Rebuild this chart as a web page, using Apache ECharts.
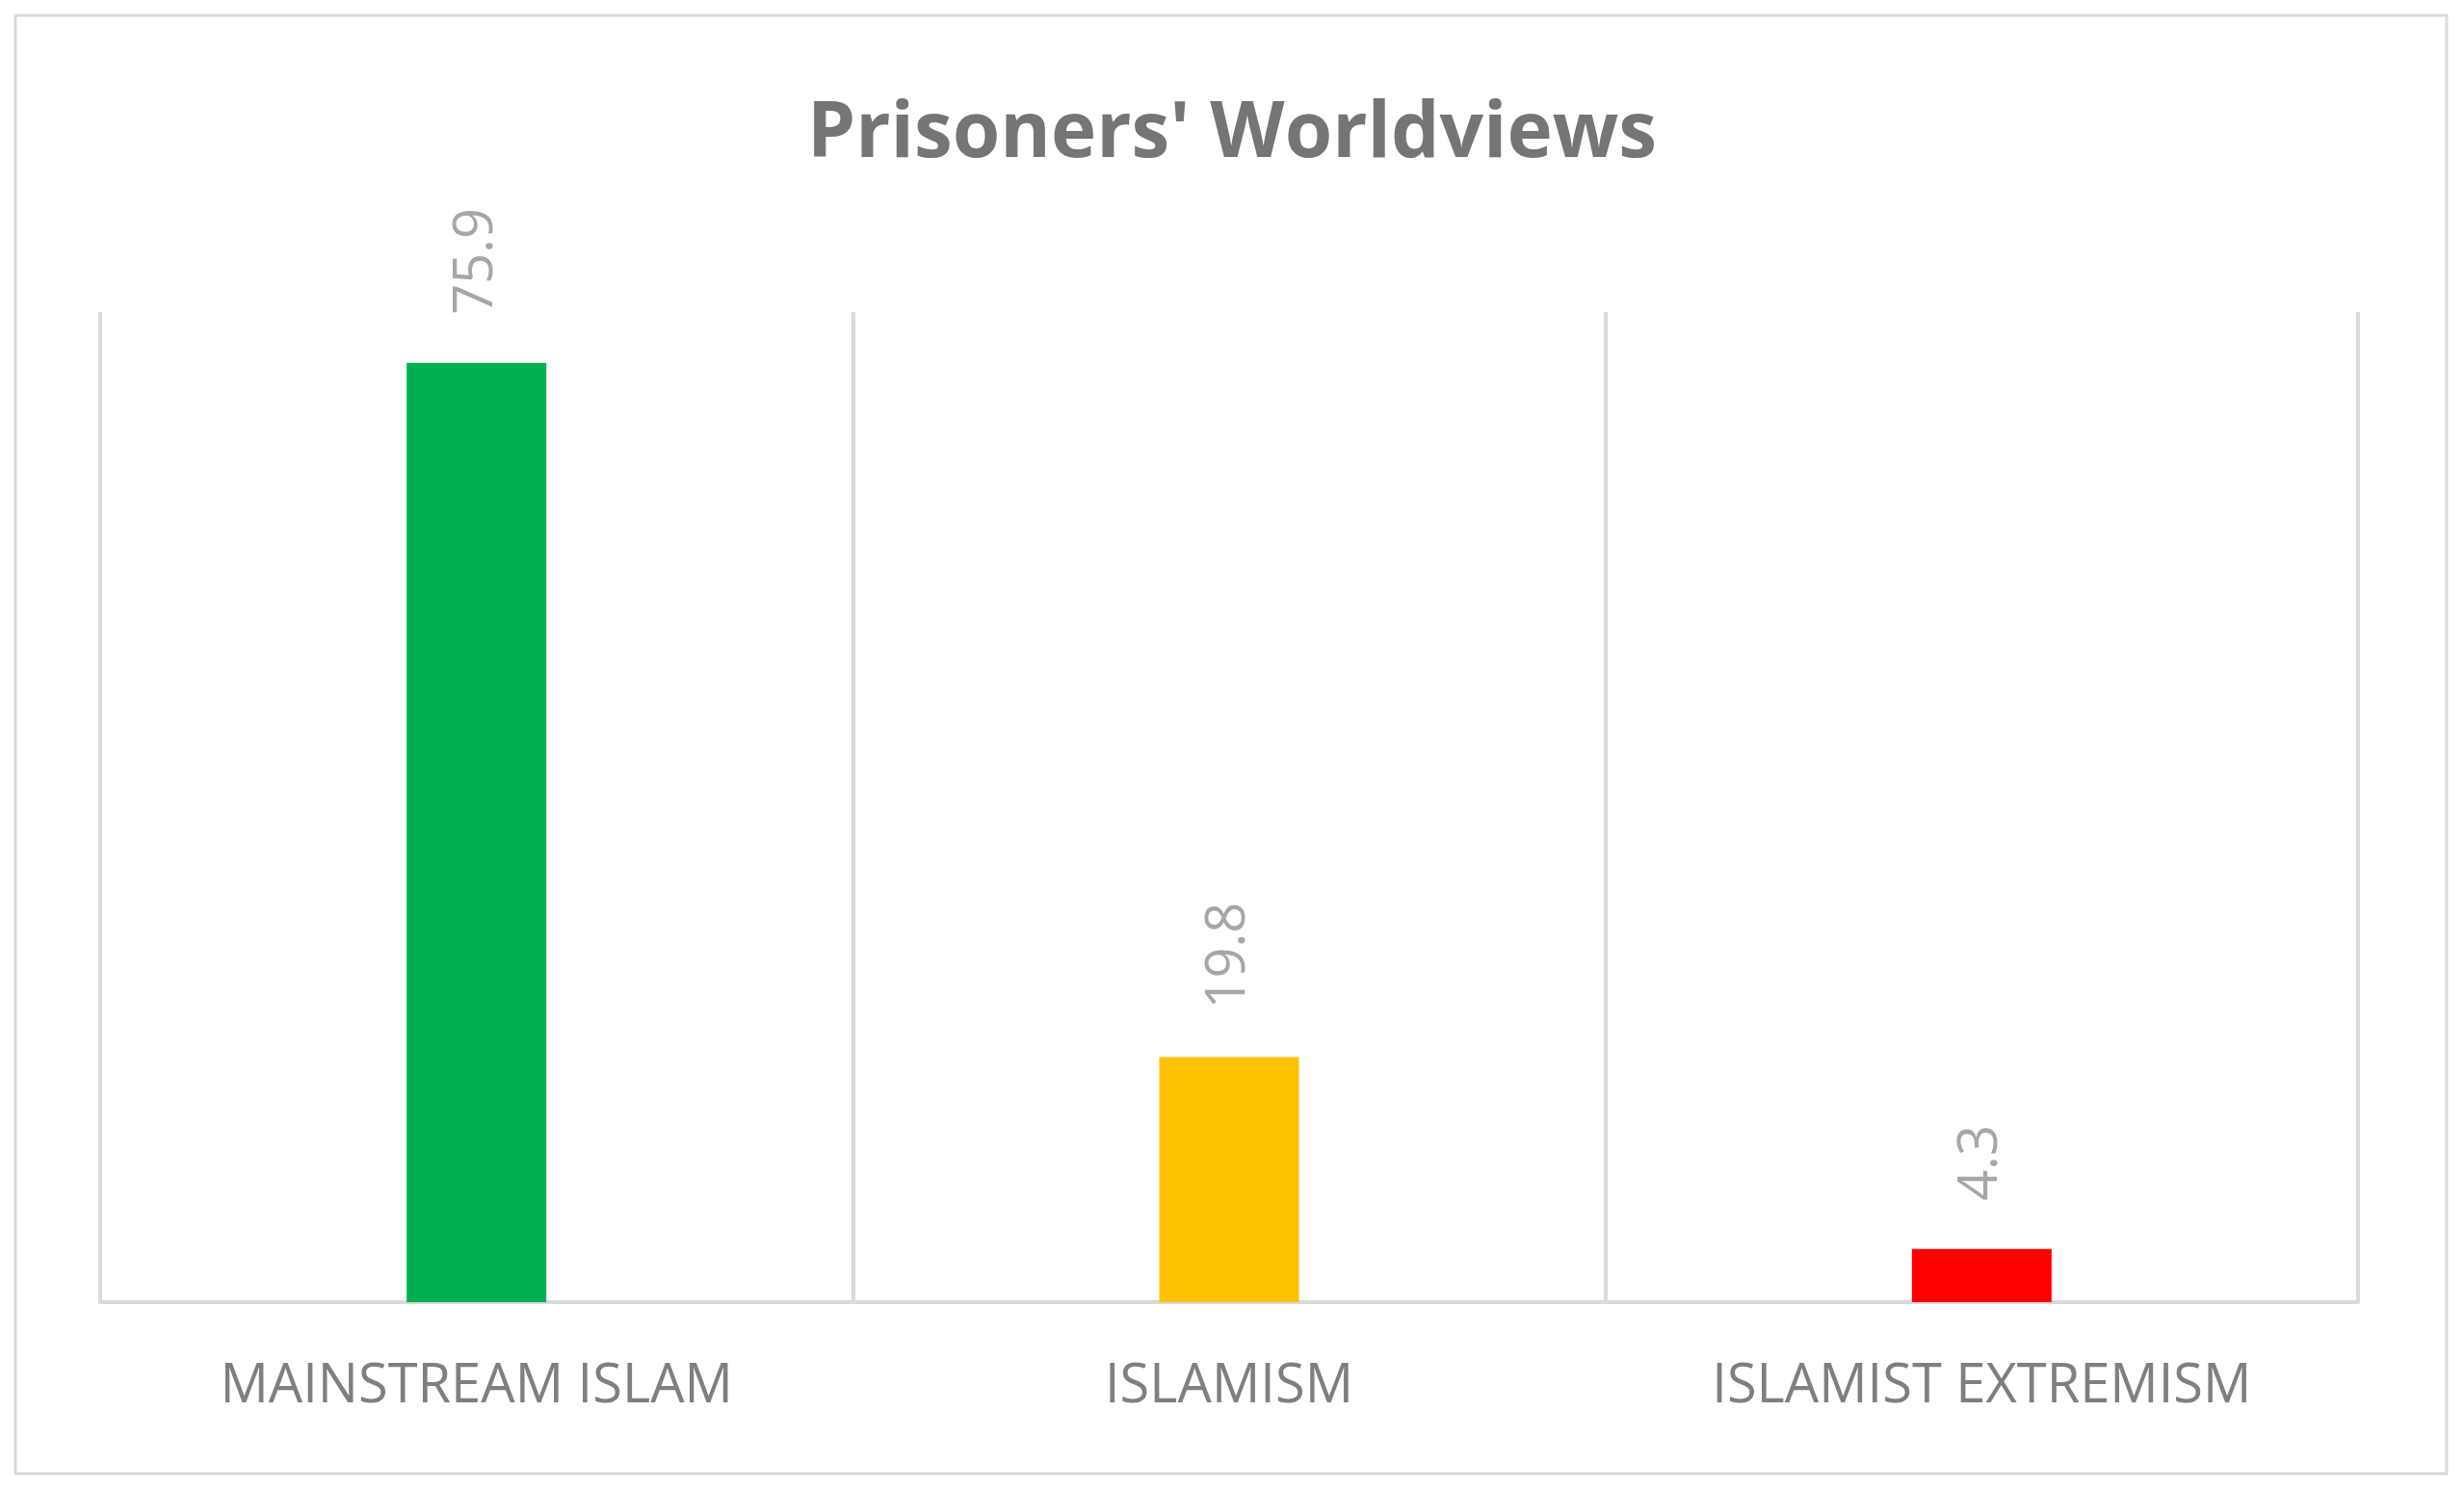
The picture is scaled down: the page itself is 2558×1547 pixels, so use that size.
<!DOCTYPE html>
<html><head><meta charset="utf-8">
<script src="https://cdn.jsdelivr.net/npm/echarts@6/dist/echarts.min.js"></script>
<style>html,body{margin:0;padding:0;background:#fff}#c{width:2558px;height:1547px}</style>
</head><body><div id="c"></div>
<script>
const categories = ['MAINSTREAM ISLAM', 'ISLAMISM', 'ISLAMIST EXTREMISM'];
const values = [75.9, 19.8, 4.3];
const colors = ['#00B050', '#FFC000', '#FF0000'];
const chart = echarts.init(document.getElementById('c'));
chart.setOption({
  backgroundColor: '#fff',
  title: { text: "Prisoners' Worldviews", left: 'center', top: 95,
    textStyle: { fontFamily: 'Open Sans', fontWeight: 'bold', fontSize: 80, color: '#757575' } },
  graphic: [{ type: 'rect', shape: { x: 16, y: 16, width: 2524, height: 1514 },
    style: { fill: 'none', stroke: '#d9d9d9', lineWidth: 3 } }],
  grid: { left: 104, right: 110, top: 324, bottom: 195 },
  xAxis: { type: 'category', data: categories,
    axisLine: { lineStyle: { color: '#d9d9d9', width: 4 } },
    axisTick: { show: false },
    splitLine: { show: true, lineStyle: { color: '#d9d9d9', width: 4 } },
    axisLabel: { margin: 60, fontFamily: 'Open Sans', fontSize: 56, color: '#7f7f7f' } },
  yAxis: { type: 'value', min: 0, max: 80, show: false, splitLine: { show: false } },
  series: [{ type: 'bar', barWidth: 145,
    data: values.map((v, i) => ({ value: v, itemStyle: { color: colors[i] } })),
    label: { show: true, position: 'top', rotate: 90, align: 'left', verticalAlign: 'middle', distance: 50,
      fontFamily: 'Open Sans', fontSize: 56, color: '#a6a6a6' } }]
});
</script></body></html>
